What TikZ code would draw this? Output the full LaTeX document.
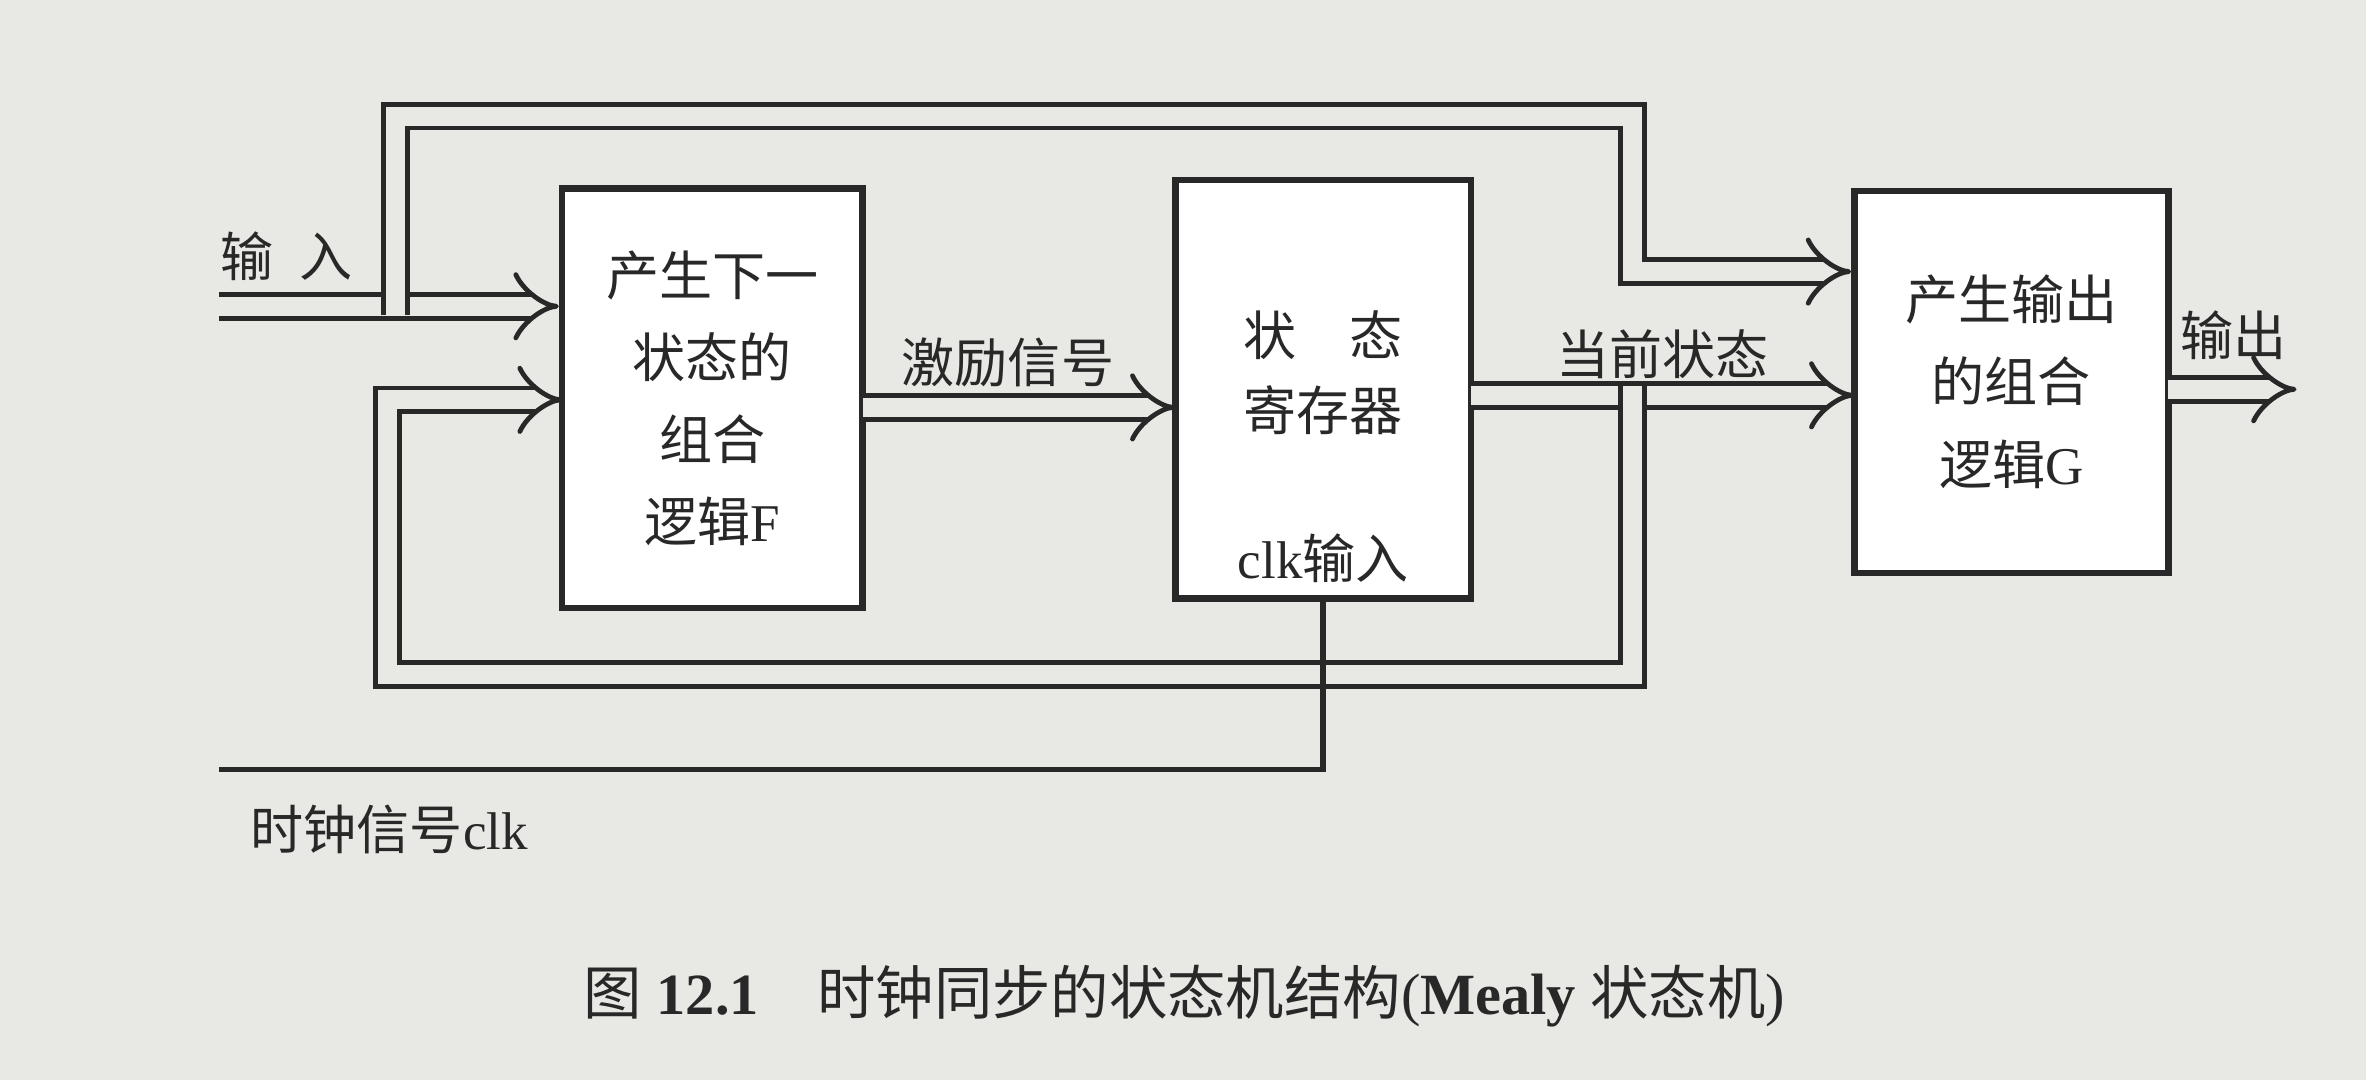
\documentclass[tikz,border=0pt]{standalone}
\usepackage{fontspec}
\setmainfont{Liberation Serif}
\newfontfamily\cjk{Noto Sans CJK SC}
\usetikzlibrary{arrows.meta}
\definecolor{paperGray}{RGB}{232,232,228}
\definecolor{inkBlack}{RGB}{40,40,40}

\begin{document}
\begin{tikzpicture}[x=0.01cm, y=-0.01cm]
    % Styles
    \tikzstyle{block} = [rectangle, draw=inkBlack, line width=1.2pt, fill=white, text=inkBlack, align=center, font={\fontsize{10}{15.5}\selectfont}]
    \tikzstyle{bus} = [draw=inkBlack, line width=0.9pt, double=paperGray, double distance=3.6pt, -{Implies}]
    \tikzstyle{wire} = [draw=inkBlack, line width=1.1pt]
    \tikzstyle{lbl} = [text=inkBlack, font={\fontsize{10}{12}\selectfont}]

    \fill[paperGray] (0,0) rectangle (1568,716);
    \useasboundingbox (0,0) rectangle (1568,716);

    % Blocks
    \node[block, minimum width=1.99cm, minimum height=2.78cm] (nextF) at (472,264) {{\cjk 产生下一}\\{\cjk 状态的}\\{\cjk 组合}\\{\cjk 逻辑}F};
    \node[block, minimum width=1.96cm, minimum height=2.77cm] (reg) at (877,258) {};
    \node[lbl] (regA) at (877,222) {\cjk 状\quad 态};
    \node[lbl] (regB) at (877,272) {\cjk 寄存器};
    \node[lbl] (regC) at (877,370) {clk{\cjk 输入}};
    \node[block, minimum width=2.08cm, minimum height=2.53cm] (outG) at (1333,253) {{\cjk 产生输出}\\{\cjk 的组合}\\{\cjk 逻辑}G};

    % Free ends
    \coordinate (inStart) at (145,203);
    \coordinate (outEnd) at (1522,258);
    \coordinate (clkStart) at (145,510);

    % Input and top loop
    \draw[bus] (inStart) -- (inStart -| nextF.west);
    \draw[bus] (262,209) -- (262,77) -- (1082,77) -- (1082,180) -- (1082,180 -| outG.west);
    \node[lbl] (inLbl) at (190,170) {\cjk 输\enspace 入};

    % Excitation and current state
    \draw[bus] (572,270) -- (779,270);
    \node[lbl] (excLbl) at (668,240) {\cjk 激励信号};
    \draw[bus] (975,262) -- (1229,262);
    \node[lbl] (curLbl) at (1102,235) {\cjk 当前状态};

    % Feedback
    \draw[bus] (1082,256) -- (1082,447) -- (257,447) -- (257,265) -- (373,265);

    % Clock
    \draw[wire] (clkStart) -- (877,510) -- (reg.south);
    \node[lbl] (clkLbl) at (258,550) {{\cjk 时钟信号}clk};

    % Output
    \draw[bus] (1437,258) -- (outEnd);
    \node[lbl] (outLbl) at (1480,222) {\cjk 输出};

    % Caption
    \node[lbl, font={\fontsize{11}{13}\selectfont}] (cap) at (785,660) {{\cjk 图} \textbf{12.1}\quad{\cjk 时钟同步的状态机结构}(\textbf{Mealy} {\cjk 状态机})};
\end{tikzpicture}
\end{document}
